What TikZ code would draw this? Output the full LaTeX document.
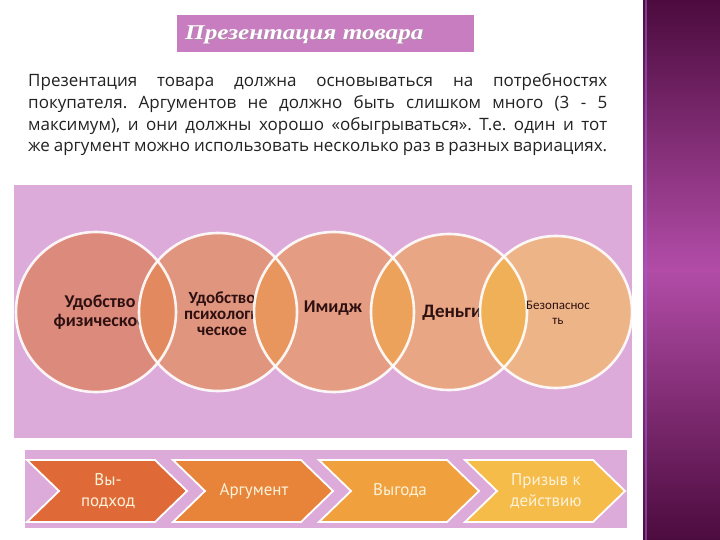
\documentclass[tikz,border=0pt]{standalone}
\usepackage{fontspec}
\setmainfont{Open Sans}
\newfontfamily\carl{Carlito}
\newfontfamily\titlefont[FakeStretch=1.2]{Liberation Serif}
\newfontfamily\chevfont{PT Sans}
\definecolor{lilac}{HTML}{DDABD9}
\definecolor{titlepink}{HTML}{C87DC0}
\definecolor{bodytext}{HTML}{222222}
\definecolor{circtext}{HTML}{2E1010}
\definecolor{cA}{HTML}{DB8A7C}
\definecolor{cB}{HTML}{E0957F}
\definecolor{cC}{HTML}{E49D82}
\definecolor{cD}{HTML}{E8A684}
\definecolor{cE}{HTML}{EDB488}
\definecolor{oAB}{HTML}{E2895F}
\definecolor{oBC}{HTML}{E8955E}
\definecolor{oCD}{HTML}{ECA25B}
\definecolor{oDE}{HTML}{F0B058}
\definecolor{chA}{HTML}{E06A37}
\definecolor{chB}{HTML}{E8843A}
\definecolor{chC}{HTML}{F0A03D}
\definecolor{chD}{HTML}{F6BC49}
\definecolor{chtext}{HTML}{FBF2DA}
\definecolor{stripdark}{HTML}{4C0B3E}
\definecolor{stripmid}{HTML}{B24CA7}
\frenchspacing
\begin{document}
\begin{tikzpicture}[x=1pt,y=-1pt,
  bodyline/.style={anchor=base west,inner sep=0pt,text=bodytext,font=\fontsize{17}{20}\selectfont},
  circlabel/.style={align=center,inner sep=0pt,text=circtext,font=\carl\bfseries\fontsize{18}{19}\selectfont},
  ring/.style={draw=white,line width=2.6pt,draw opacity=0.9},
  chevbox/.style={fill=#1,draw=white,line width=1.8pt,line join=miter},
  chevlabel/.style={align=center,inner sep=0pt,text=chtext,font=\chevfont\fontsize{17}{21}\selectfont}]
\useasboundingbox (0,0) rectangle (720,540);
\fill[white] (0,0) rectangle (720,540);
% right strip
\shade[top color=stripdark,bottom color=stripdark,middle color=stripmid] (643,0) rectangle (720,540);
\draw[line width=1.5pt,color=stripmid!70!blue!80!white,opacity=0.6] (646,0) -- (646,540);
% title
\fill[titlepink] (177,15) rectangle (474,52);
\node[anchor=base west,inner sep=0pt,text=black!40,opacity=0.5,font=\titlefont\bfseries\itshape\fontsize{21}{24}\selectfont] at (186,41) {Презентация товара};
\node (title) [anchor=base west,inner sep=0pt,text=white,font=\titlefont\bfseries\itshape\fontsize{21}{24}\selectfont] at (185,40) {Презентация товара};
% paragraph
\node (l1) [bodyline] at (28,87) {\makebox[579pt][s]{Презентация товара должна основываться на потребностях}};
\node (l2) [bodyline] at (28,109) {\makebox[579pt][s]{покупателя. Аргументов не должно быть слишком много (3 - 5}};
\node (l3) [bodyline] at (28,131) {\makebox[579pt][s]{максимум), и они должны хорошо «обыгрываться». Т.е. один и тот}};
\node (l4) [bodyline] at (28,152) {\makebox[579pt][s]{же аргумент можно использовать несколько раз в разных вариациях.}};
% middle panel
\fill[lilac] (14,185) rectangle (632,438);
\coordinate (c1) at (96,312);
\coordinate (c2) at (218,312);
\coordinate (c3) at (334,312);
\coordinate (c4) at (449,312);
\coordinate (c5) at (556,312);
\fill[cA] (c1) circle (80pt);
\node (t1) [circlabel] at (100,312) {Удобство\\физическое};
\fill[cB] (c2) circle (79pt);
\begin{scope}\clip (c1) circle (80pt); \fill[oAB] (c2) circle (79pt);\end{scope}
\node (t2) [circlabel,font=\carl\bfseries\fontsize{17}{16}\selectfont] at (222,314) {Удобство\\психологи\\ческое};
\fill[cC] (c3) circle (80pt);
\begin{scope}\clip (c2) circle (79pt); \fill[oBC] (c3) circle (80pt);\end{scope}
\node (t3) [circlabel] at (333,308) {Имидж};
\fill[cD] (c4) circle (78pt);
\begin{scope}\clip (c3) circle (80pt); \fill[oCD] (c4) circle (78pt);\end{scope}
\node (t4) [circlabel,font=\carl\bfseries\fontsize{19}{21}\selectfont] at (452,313) {Деньги};
\fill[cE] (c5) circle (76pt);
\begin{scope}\clip (c4) circle (78pt); \fill[oDE] (c5) circle (76pt);\end{scope}
\draw[ring] (c1) circle (80pt);
\draw[ring] (c2) circle (79pt);
\draw[ring] (c3) circle (80pt);
\draw[ring] (c4) circle (78pt);
\draw[ring] (c5) circle (76pt);
\node (t5) [circlabel,font=\carl\fontsize{13}{15}\selectfont] at (558,313) {Безопаснос\\ть};
% bottom band
\fill[lilac] (25,450) rectangle (627,528);
\draw[chevbox=chA] (27,460) -- (155,460) -- (187,491) -- (155,522) -- (27,522) -- (59,491) -- cycle;
\draw[chevbox=chB] (173,460) -- (301,460) -- (333,491) -- (301,522) -- (173,522) -- (205,491) -- cycle;
\draw[chevbox=chC] (319,460) -- (447,460) -- (479,491) -- (447,522) -- (319,522) -- (351,491) -- cycle;
\draw[chevbox=chD] (465,460) -- (593,460) -- (625,491) -- (593,522) -- (465,522) -- (497,491) -- cycle;
\node (k1) [chevlabel] at (108,491) {Вы-\\подход};
\node (k2) [chevlabel] at (254,491) {Аргумент};
\node (k3) [chevlabel] at (400,491) {Выгода};
\node (k4) [chevlabel] at (546,491) {Призыв к\\действию};
\end{tikzpicture}
\end{document}
